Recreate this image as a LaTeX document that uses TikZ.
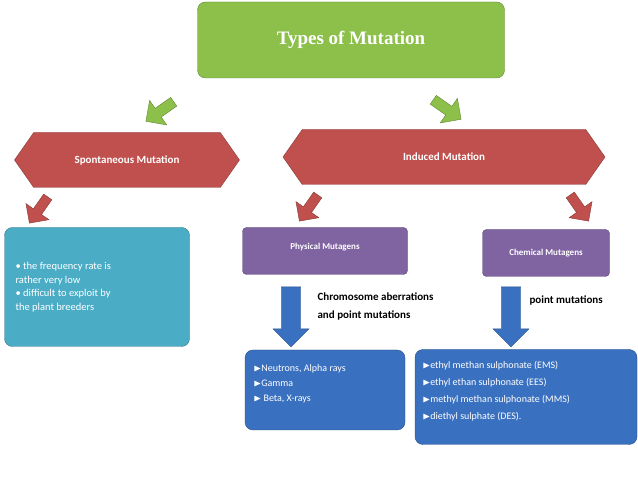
\documentclass[tikz,border=0pt]{standalone}
\usepackage{amssymb}
\usepackage{fontspec}
\setmainfont{Liberation Serif}
\newfontfamily\sansf{Carlito}
\usetikzlibrary{shapes.geometric,shapes.arrows,shapes.symbols}
\definecolor{grn}{HTML}{8CC04A}
\definecolor{rd}{HTML}{C0504D}
\definecolor{cy}{HTML}{4BACC6}
\definecolor{pu}{HTML}{8064A2}
\definecolor{bl}{HTML}{3A70C0}
\begin{document}
\begin{tikzpicture}[x=1pt,y=-1pt,
 hex/.style={draw=rd!70!black,fill=rd,text=white,font=\sansf\bfseries\fontsize{11}{13}\selectfont,signal,signal to=east and west,signal pointer angle=110,inner sep=0pt,anchor=center},
 box/.style={draw=#1!70!black,fill=#1,rounded corners=8pt,anchor=center},
 sar/.style={single arrow,fill=#1,draw=#1!70!black,minimum height=34,minimum width=30,single arrow head extend=4pt,inner sep=2pt,anchor=center},
 txt/.style={text=white,font=\sansf\fontsize{10.5}{13.5}\selectfont,align=left,anchor=west}]
\useasboundingbox (0,0) rectangle (638,478);
\node[box=grn,minimum width=307,minimum height=76,text=white,font=\bfseries\fontsize{19}{22}\selectfont] (t) at (351,40) {Types of Mutation};
\node[sar=grn,rotate=-145] (ga1) at (162,110) {};
\node[sar=grn,rotate=-35] (ga2) at (445,108) {};
\node[hex,minimum width=225,minimum height=55] (sp) at (127,160) {Spontaneous Mutation};
\node[hex,minimum width=322,minimum height=55] (in) at (444,157) {Induced Mutation};
\node[sar=rd,rotate=-125,minimum height=32,minimum width=28] (ra1) at (40,208) {};
\node[sar=rd,rotate=-125,minimum height=32,minimum width=28] (ra2) at (310,206) {};
\node[sar=rd,rotate=-55,minimum height=32,minimum width=28] (ra3) at (578,206) {};
\node[box=cy,minimum width=185,minimum height=119] (c) at (97,287) {};
\node[txt] at (12,287) {• the frequency rate is\\rather very low\\• difficult to exploit by\\the plant breeders};
\node[box=pu,rounded corners=4pt,minimum width=165,minimum height=47,text=white,font=\sansf\bfseries\fontsize{9}{11}\selectfont] (pm) at (325,251) {\raisebox{10pt}{Physical Mutagens}};
\node[box=pu,rounded corners=4pt,minimum width=127,minimum height=47,text=white,font=\sansf\bfseries\fontsize{9}{11}\selectfont] (cm) at (546,253) {Chemical Mutagens};
\node[single arrow,fill=bl,draw=bl!70!black,rotate=-90,minimum height=60,minimum width=36,single arrow head extend=3pt,anchor=center] (b1) at (291,312) {};
\node[single arrow,fill=bl,draw=bl!70!black,rotate=-90,minimum height=60,minimum width=36,single arrow head extend=3pt,anchor=center] (b2) at (511,312) {};
\node[anchor=west,align=left,font=\sansf\bfseries\fontsize{11}{18}\selectfont] (ca) at (314,306) {Chromosome aberrations\\and point mutations};
\node[anchor=west,font=\sansf\bfseries\fontsize{11}{13}\selectfont] (pt) at (526,300) {point mutations};
\node[box=bl,minimum width=160,minimum height=80] (bb1) at (325,390) {};
\node[txt,font=\sansf\fontsize{10}{15}\selectfont] at (250,384) {$\blacktriangleright$Neutrons, Alpha rays\\$\blacktriangleright$Gamma\\$\blacktriangleright$ Beta, X-rays};
\node[box=bl,minimum width=222,minimum height=95] (bb2) at (526,397) {};
\node[txt,font=\sansf\fontsize{10}{17}\selectfont] at (419,391) {$\blacktriangleright$ethyl methan sulphonate (EMS)\\$\blacktriangleright$ethyl ethan sulphonate (EES)\\$\blacktriangleright$methyl methan sulphonate (MMS)\\$\blacktriangleright$diethyl sulphate (DES).};
\end{tikzpicture}
\end{document}
